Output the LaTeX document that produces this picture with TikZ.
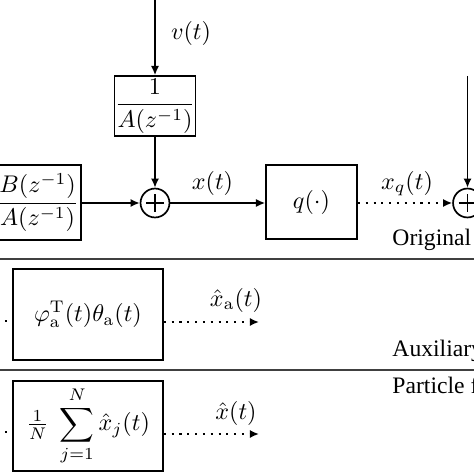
\documentclass[tikz,border=0pt]{standalone}
\usepackage{fontspec}
\newfontfamily\tnr{Liberation Serif}
\usetikzlibrary{arrows.meta}
\begin{document}
\begin{tikzpicture}[x=0.415pt,y=-0.415pt,
  blk/.style={draw, line width=0.7pt, inner sep=0pt},
  sumnode/.style={draw, circle, line width=0.7pt, minimum size=12pt, inner sep=0pt},
  tip/.style={-{Latex[length=3.8pt,width=3.4pt]}},
  sig/.style={line width=0.7pt},
  dots/.style={line width=0.9pt, dash pattern=on 0.9pt off 2.34pt},
  lbl/.style={inner sep=0pt, anchor=base},
  sec/.style={font=\tnr\fontsize{9.8}{12}\selectfont, anchor=base west, inner sep=0pt},
  sepline/.style={line width=0.85pt, draw=black!75}]
\useasboundingbox (0,0) rectangle (474,474);
\clip (0,0) rectangle (474,474);

% blocks
\node[blk, minimum width=31.5pt, minimum height=24.9pt] (g1) at (155,106) {$\displaystyle\frac{1}{A(z^{-1})}$};
\node[blk, minimum width=36pt, minimum height=31.1pt] (g2) at (37.6,202.5) {$\displaystyle\frac{B(z^{-1})}{A(z^{-1})}$};
\node[sumnode] (s1) at (155,203) {};
\node[blk, minimum width=37.8pt, minimum height=30.7pt] (q) at (311.5,202) {$q(\cdot)$};
\node[sumnode] (s2) at (467.5,203) {};
\node[blk, minimum width=62.25pt, minimum height=37.8pt] (phi) at (88,314.5) {$\varphi_{\mathrm{a}}^{\mathrm{T}}(t)\theta_{\mathrm{a}}(t)$};
\node[blk, minimum width=62.25pt, minimum height=37.35pt] (avg) at (88,426) {$\textstyle\frac{1}{N}\;\displaystyle\sum_{j=1}^{N}\hat{x}_j(t)$};

% plus signs
\foreach \s in {s1,s2}{
  \draw[sig] ([xshift=-3.7pt]\s.center) -- ([xshift=3.7pt]\s.center);
  \draw[sig] ([yshift=-3.7pt]\s.center) -- ([yshift=3.7pt]\s.center);
}

% free ends
\coordinate (top1) at (155,-10);
\coordinate (top2) at (467.5,76);
\coordinate (xa) at (259,322);
\coordinate (xh) at (259,434);
\coordinate (inAs) at (-18.5,321);
\coordinate (inAe) at (7,321);
\coordinate (inBs) at (-18.5,432);
\coordinate (inBe) at (7,432);

% connectors
\draw[sig,tip] (top1) -- (g1.north);
\draw[sig,tip] (g1.south) -- (s1.north);
\draw[sig,tip] (g2.east |- s1.west) -- (s1.west);
\draw[sig,tip] (s1.east) -- (q.west |- s1.east);
\draw[dots,tip] (q.east |- s2.west) -- (s2.west);
\draw[sig,tip] (top2) -- (s2.north);
\draw[dots] (inAs) -- (inAe);
\draw[dots] (inBs) -- (inBe);
\draw[dots,tip] (phi.east |- xa) -- (xa);
\draw[dots,tip] (avg.east |- xh) -- (xh);

% labels
\node[lbl] (lv) at (191,40) {$v(t)$};
\node[lbl] (lx) at (212.5,189) {$x(t)$};
\node[lbl] (lxq) at (407,189) {$x_q(t)$};
\node[lbl] (lxa) at (236,306) {$\hat{x}_{\mathrm{a}}(t)$};
\node[lbl] (lxh) at (236,419) {$\hat{x}(t)$};

% section separators and titles
\draw[sepline] (0,259) -- (474,259);
\draw[sepline] (0,370) -- (474,370);
\node[sec] (t1) at (392,245) {Original};
\node[sec] (t2) at (392,356) {Auxiliary};
\node[sec] (t3) at (392,393) {Particle f};
\end{tikzpicture}
\end{document}
